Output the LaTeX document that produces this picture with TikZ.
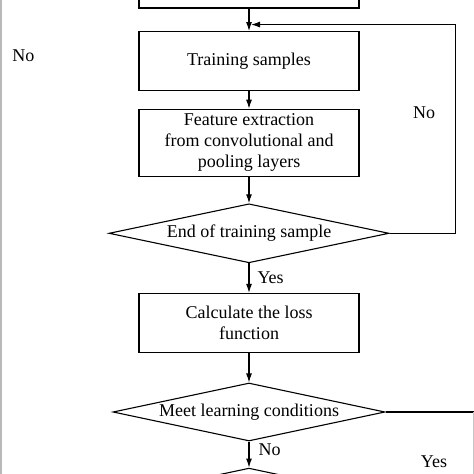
\documentclass[tikz,border=0pt]{standalone}
\usepackage{fontspec}
\setmainfont{Liberation Serif}
\usepackage{tikz}
\usetikzlibrary{positioning}
\usetikzlibrary{shapes.geometric}
\usetikzlibrary{arrows.meta}
\tikzset{
  stepbox/.style={
    draw, line width=1.1pt, minimum width=220pt, minimum height=59pt,
    align=center, inner sep=2pt,
    font=\fontsize{18}{21}\selectfont,
  },
  decision/.style={
    draw, diamond, aspect=4.7, line width=1.1pt, inner sep=0pt,
    minimum width=280pt, minimum height=59pt,
    font=\fontsize{18}{21}\selectfont,
  },
  flow/.style={line width=1.1pt, -{Latex[length=9pt,width=6pt]}},
  lbl/.style={inner sep=0pt, font=\fontsize{18}{21}\selectfont},
}

\begin{document}
\begin{tikzpicture}[x=1pt,y=-1pt]

  \useasboundingbox (0,0) rectangle (474,474);
  \clip (0,0) rectangle (474,474);

  % Define nodes
  \node[stepbox, minimum height=60pt] (init) at (249,-22) {};
  \node[stepbox, below=22.5pt of init] (train) {Training samples};
  \node[stepbox, below=17.5pt of train, minimum height=67pt] (feat) {Feature extraction\\from convolutional and\\pooling layers};
  \node[decision, below=26.5pt of feat] (endtrain) {End of training sample};
  \node[stepbox, below=29.5pt of endtrain] (loss) {Calculate the loss\\function};
  \node[decision, below=29.5pt of loss, minimum width=272pt, minimum height=58pt] (meet) {Meet learning conditions};
  \node[decision, below=26pt of meet, minimum width=272pt, minimum height=58pt] (next) {};

  \coordinate[below=16pt of init] (join);
  \coordinate (ltop) at (1.2,0);
  \coordinate (lbot) at (1.2,474);
  \coordinate (redge) at (475,0);
  \coordinate (rx) at (473.5,474);
  \coordinate (rturn) at (meet.east -| rx);

  % Connect nodes
  \draw[flow] (init) -- (train);
  \draw[flow] (train) -- (feat);
  \draw[flow] (feat) -- (endtrain);
  \draw[flow] (endtrain) -- node[lbl, right=8pt] {Yes} (loss);
  \draw[flow] (loss) -- (meet);
  \draw[flow] (meet) -- node[lbl, right=9pt, pos=0.33] {No} (next);

  \draw[flow, shorten >=2pt] (endtrain.east) -- ++(66,0) |- node[lbl, left=20pt, pos=0.29] {No} (join);

  \draw[line width=1.1pt] (meet.east) -- (meet.east -| redge);
  \draw[gray!45, line width=1pt] (rturn) -- node[lbl, left=26pt, pos=0.8, text=black] {Yes} (rx);

  \draw[gray!55, line width=2.4pt] (ltop) -- node[lbl, right=10pt, pos=0.118, text=black] {No} (lbot);

\end{tikzpicture}
\end{document}
